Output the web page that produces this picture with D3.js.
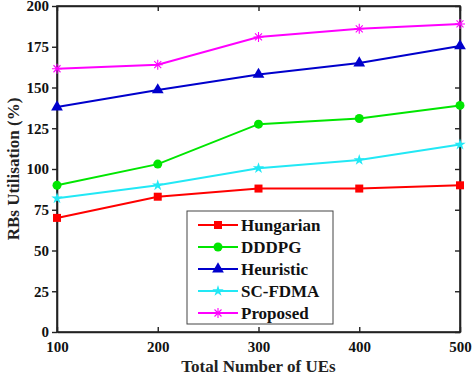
<!DOCTYPE html>
<html>
<head>
<meta charset="utf-8">
<script src="https://cdn.jsdelivr.net/npm/d3@7"></script>
<style>
  body { margin: 0; background: #fff; }
</style>
</head>
<body>
<svg id="chart" width="474" height="380"></svg>
<script>
// data
var ues = [100, 200, 300, 400, 500];
var hungarian = [70, 83, 88, 88, 90];
var dddpg = [90, 103, 127.5, 131, 139];
var heuristic = [138, 148.5, 158, 165, 175.5];
var scfdma = [82, 90, 100.5, 105.5, 115];
var proposed = [161.5, 164, 181, 186, 189];
var yTicks = [0, 25, 50, 75, 100, 125, 150, 175, 200];

var series = [
  { name: "Hungarian", values: hungarian, color: "#ff0000", marker: "square" },
  { name: "DDDPG", values: dddpg, color: "#00e600", marker: "circle" },
  { name: "Heuristic", values: heuristic, color: "#0000cc", marker: "triangle" },
  { name: "SC-FDMA", values: scfdma, color: "#22e8f5", marker: "star" },
  { name: "Proposed", values: proposed, color: "#ff00ff", marker: "asterisk" }
];

var FONT = "Liberation Serif";

var margin = { top: 6, right: 14, bottom: 48, left: 57 };
var width = 474 - margin.left - margin.right;
var height = 380 - margin.top - margin.bottom;

var svg = d3.select("#chart");
var chartGroup = svg.append("g")
  .attr("transform", `translate(${margin.left}, ${margin.top})`);

var xScale = d3.scaleLinear().domain([100, 500]).range([0, width]);
var yScale = d3.scaleLinear().domain([0, 200]).range([height, 0]);

// frame
chartGroup.append("rect")
  .attr("width", width).attr("height", height)
  .attr("fill", "none").attr("stroke", "#222").attr("stroke-width", 1.6);

// bottom axis
chartGroup.append("g")
  .attr("transform", `translate(0, ${height})`)
  .call(d3.axisBottom(xScale).tickValues(ues).tickSizeInner(-5).tickSizeOuter(0).tickPadding(9));
// left axis
chartGroup.append("g")
  .call(d3.axisLeft(yScale).tickValues(yTicks).tickSizeInner(5).tickSizeOuter(0).tickPadding(3));
// top & right ticks
chartGroup.append("g")
  .call(d3.axisTop(xScale).tickValues(ues).tickSizeInner(-5).tickSizeOuter(0).tickFormat(""));
chartGroup.append("g")
  .attr("transform", `translate(${width}, 0)`)
  .call(d3.axisRight(yScale).tickValues(yTicks).tickSizeInner(-5).tickSizeOuter(0).tickFormat(""));

chartGroup.selectAll("g").attr("font-family", FONT);
chartGroup.selectAll(".domain").attr("stroke", "#222").attr("stroke-width", 1.6);
chartGroup.selectAll(".tick line").attr("stroke", "#222").attr("stroke-width", 1.4);
chartGroup.selectAll(".tick text")
  .attr("font-size", 15).attr("fill", "#111")
  .attr("font-family", FONT).attr("font-weight", "bold");

// axis titles
svg.append("text")
  .attr("x", margin.left + width / 2).attr("y", 372)
  .attr("text-anchor", "middle").attr("font-size", 17).attr("fill", "#222")
  .attr("font-family", FONT).attr("font-weight", "bold")
  .text("Total Number of UEs");
svg.append("text")
  .attr("transform", "rotate(-90)")
  .attr("x", -(margin.top + height / 2)).attr("y", 19)
  .attr("text-anchor", "middle").attr("font-size", 17).attr("fill", "#222")
  .attr("font-family", FONT).attr("font-weight", "bold")
  .text("RBs Utilisation (%)");

function drawMarker(g, type, color) {
  if (type === "square") {
    g.append("rect").attr("x", -4).attr("y", -4).attr("width", 8).attr("height", 8).attr("fill", color);
  } else if (type === "circle") {
    g.append("circle").attr("r", 4.5).attr("fill", color);
  } else if (type === "triangle") {
    g.append("path").attr("d", d3.symbol(d3.symbolTriangle, 60)()).attr("fill", color);
  } else if (type === "star") {
    g.append("path").attr("d", d3.symbol(d3.symbolStar, 40)()).attr("fill", color);
  } else if (type === "asterisk") {
    g.append("path").attr("d", "M-5,0H5M0,-5V5M-3.5,-3.5L3.5,3.5M-3.5,3.5L3.5,-3.5")
      .attr("stroke", color).attr("stroke-width", 1.1).attr("fill", "none");
  }
}

var line = d3.line()
  .x((d, i) => xScale(ues[i]))
  .y(d => yScale(d));

series.forEach(function(s) {
  chartGroup.append("path")
    .datum(s.values)
    .attr("d", line)
    .attr("fill", "none")
    .attr("stroke", s.color)
    .attr("stroke-width", 2);
  s.values.forEach(function(v, i) {
    var g = chartGroup.append("g")
      .attr("transform", `translate(${xScale(ues[i])}, ${yScale(v)})`);
    drawMarker(g, s.marker, s.color);
  });
});

// legend
var legend = svg.append("g").attr("transform", "translate(187, 211)");
legend.append("rect")
  .attr("width", 146).attr("height", 113)
  .attr("fill", "#fff").attr("stroke", "#444").attr("stroke-width", 1);
series.forEach(function(s, i) {
  var y = 14 + i * 22;
  legend.append("line")
    .attr("x1", 11).attr("x2", 51).attr("y1", y).attr("y2", y)
    .attr("stroke", s.color).attr("stroke-width", 2);
  var g = legend.append("g").attr("transform", `translate(31, ${y})`);
  drawMarker(g, s.marker, s.color);
  legend.append("text")
    .attr("x", 54).attr("y", y + 5.5)
    .attr("font-size", 17).attr("fill", "#111")
    .attr("font-family", FONT).attr("font-weight", "bold")
    .text(s.name);
});
</script>
</body>
</html>
